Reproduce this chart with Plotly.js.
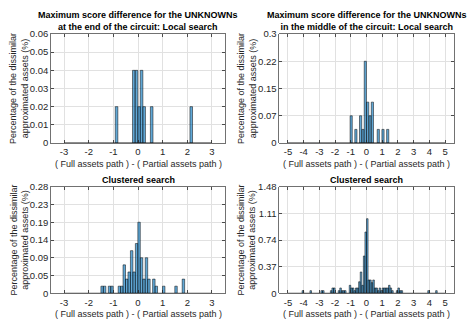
<!DOCTYPE html>
<html>
<head>
<meta charset="utf-8">
<script src="https://cdn.plot.ly/plotly-3.0.1.min.js"></script>
<style>html,body{margin:0;padding:0;background:#fff;}#chart{width:474px;height:335px;}</style>
</head>
<body>
<div id="chart"></div>
<script>
// ---- data ----
const titleEndLocal = "Maximum score difference for the UNKNOWNs<br>at the end of the circuit: Local search";
const titleMidLocal = "Maximum score difference for the UNKNOWNs<br>in the middle of the circuit: Local search";
const titleClustered = "Clustered search";
const xLabel = "( Full assets path ) - ( Partial assets path )";
const yLabel = "Percentage of the dissimilar<br>approximated assets (%)";

const rangeNarrow = [-3, 3];
const rangeWide = [-5, 5];
const xTicksNarrow = [-3, -2, -1, 0, 1, 2, 3];
const xTicksWide = [-5, -4, -3, -2, -1, 0, 1, 2, 3, 4, 5];

const endLocalCenters = [-0.87, -0.17, -0.06, 0.045, 0.145, 0.25, 0.555, 2.16];
const endLocalValues  = [0.02, 0.04, 0.04, 0.02, 0.04, 0.02, 0.02, 0.02];
const endLocalYTicks = [0, 0.01, 0.02, 0.03, 0.04, 0.05, 0.06];
const endLocalYText  = ["0", "0.01", "0.02", "0.03", "0.04", "0.05", "0.06"];

const midLocalCenters = [-0.975, -0.675, -0.375, -0.225, -0.075, 0.075, 0.225, 0.375, 0.75, 1.05, 1.35];
const midLocalValues  = [0.075, 0.0375, 0.075, 0.0375, 0.225, 0.1125, 0.075, 0.1125, 0.0375, 0.0375, 0.0375];
const midLocalYTicks = [0, 0.075, 0.15, 0.225, 0.3];
const midLocalYText  = ["0", "0.07", "0.15", "0.22", "0.3"];

const endClustCenters = [-1.455, -1.355, -1.155, -1.055, -0.755, -0.655, -0.557, -0.457, -0.357, -0.257, -0.157, -0.057, 0.043, 0.143, 0.243, 0.343, 0.443, 0.643, 0.743, 1.043, 1.543, 1.843];
const endClustValues  = [0.0187, 0.0187, 0.0187, 0.0187, 0.0187, 0.0187, 0.0747, 0.0373, 0.056, 0.112, 0.056, 0.1307, 0.1867, 0.0933, 0.0373, 0.0933, 0.0373, 0.0373, 0.0187, 0.0187, 0.0187, 0.0373];
const endClustYTicks = [0, 0.0467, 0.0933, 0.14, 0.1867, 0.2333, 0.28];
const endClustYText  = ["0", "0.05", "0.09", "0.14", "0.19", "0.23", "0.28"];

const midClustCenters = [-4.05, -3.55, -2.85, -2.75, -2.25, -2.15, -2.05, -1.75, -1.65, -1.55, -1.45, -1.35, -1.05, -0.95, -0.85, -0.75, -0.65, -0.55, -0.45, -0.35, -0.25, -0.15, -0.05, 0.05, 0.15, 0.25, 0.35, 0.45, 0.55, 0.65, 0.75, 0.85, 0.95, 1.05, 1.15, 1.25, 1.35, 1.45, 1.55, 1.65, 1.95, 2.05, 2.15, 2.25, 3.95, 4.45];
const midClustValues  = [0.037, 0.037, 0.037, 0.037, 0.037, 0.074, 0.074, 0.037, 0.074, 0.037, 0.037, 0.037, 0.111, 0.074, 0.074, 0.037, 0.074, 0.074, 0.16, 0.296, 0.111, 0.518, 0.851, 1.036, 0.185, 0.185, 0.148, 0.185, 0.074, 0.074, 0.037, 0.074, 0.037, 0.074, 0.074, 0.074, 0.074, 0.111, 0.074, 0.037, 0.037, 0.074, 0.037, 0.037, 0.037, 0.037];
const midClustYTicks = [0, 0.37, 0.74, 1.11, 1.48];
const midClustYText  = ["0", "0.37", "0.74", "1.11", "1.48"];

// ---- styles ----
const FONT = "Liberation Sans, Arial, Helvetica, sans-serif";
const AX = "#262626";
const barFill = "rgba(0,114,189,0.62)";

function bars(x, y, xa, ya, w) {
  return {type: "bar", x: x, y: y, xaxis: xa, yaxis: ya, width: w,
    marker: {color: barFill, line: {color: "#000", width: 0.5}}, hoverinfo: "none", showlegend: false};
}
function base(r, xa, ya) {
  return {type: "scatter", mode: "lines", x: r, y: [0, 0], xaxis: xa, yaxis: ya,
    line: {color: "#1a1a1a", width: 1}, hoverinfo: "none", showlegend: false};
}
function xAxis(dom, ticks, span, anchor) {
  return {domain: dom, range: [-span, span], anchor: anchor, tickvals: ticks, ticktext: ticks.map(String),
    showgrid: true, gridcolor: "#e1e1e1", gridwidth: 1, zeroline: false, showline: true, mirror: "ticks",
    linecolor: "#4d4d4d", linewidth: 0.8, ticks: "inside", ticklen: 3, tickwidth: 0.8, tickcolor: AX,
    tickfont: {family: FONT, size: 9.5, color: AX}, fixedrange: true};
}
function yAxis(dom, ticks, text, anchor) {
  return {domain: dom, range: [0, ticks[ticks.length - 1]], anchor: anchor, tickvals: ticks, ticktext: text,
    showgrid: true, gridcolor: "#e1e1e1", gridwidth: 1, zeroline: false, showline: true, mirror: "ticks",
    linecolor: "#4d4d4d", linewidth: 0.8, ticks: "inside", ticklen: 3, tickwidth: 0.8, tickcolor: AX,
    tickfont: {family: FONT, size: 9.5, color: AX}, fixedrange: true};
}

const W = 474, H = 335;
const px = v => v / W, py = v => 1 - v / H;
const colL = [px(51), px(225)], colR = [px(279.3), px(453.7)];
const rowT = [py(143), py(34)], rowB = [py(293.3), py(186.7)];

const data = [
  base(rangeNarrow, "x", "y"), bars(endLocalCenters, endLocalValues, "x", "y", 0.105),
  base(rangeWide, "x2", "y2"), bars(midLocalCenters, midLocalValues, "x2", "y2", 0.14),
  base(rangeNarrow, "x3", "y3"), bars(endClustCenters, endClustValues, "x3", "y3", 0.1),
  base(rangeWide, "x4", "y4"), bars(midClustCenters, midClustValues, "x4", "y4", 0.1)
];

function ann(text, x, y, opts) {
  return Object.assign({text: text, x: px(x), y: py(y), xref: "paper", yref: "paper", showarrow: false,
    xanchor: "center", yanchor: "middle", font: {family: FONT, size: 9, color: "#000"}}, opts || {});
}

const annotations = [
  ann("<b>" + titleEndLocal + "</b>", 138, 21.5),
  ann("<b>" + titleMidLocal + "</b>", 366.5, 21.5),
  ann("<b>" + titleClustered + "</b>", 138, 179.5),
  ann("<b>" + titleClustered + "</b>", 366.5, 179.5),
  ann(xLabel, 138, 164, {font: {family: FONT, size: 9, color: AX}}),
  ann(xLabel, 366.5, 164, {font: {family: FONT, size: 9, color: AX}}),
  ann(xLabel, 138, 314, {font: {family: FONT, size: 9, color: AX}}),
  ann(xLabel, 366.5, 314, {font: {family: FONT, size: 9, color: AX}}),
  ann(yLabel, 18.5, 88.5, {textangle: -90, font: {family: FONT, size: 9, color: AX}}),
  ann(yLabel, 246.5, 88.5, {textangle: -90, font: {family: FONT, size: 9, color: AX}}),
  ann(yLabel, 19.5, 240, {textangle: -90, font: {family: FONT, size: 9, color: AX}}),
  ann(yLabel, 246.5, 240, {textangle: -90, font: {family: FONT, size: 9, color: AX}})
];

const layout = {
  width: W, height: H, margin: {l: 0, r: 0, t: 0, b: 0},
  paper_bgcolor: "#fff", plot_bgcolor: "#fff", showlegend: false, barmode: "overlay",
  xaxis: xAxis(colL, xTicksNarrow, 3.53, "y"), yaxis: yAxis(rowT, endLocalYTicks, endLocalYText, "x"),
  xaxis2: xAxis(colR, xTicksWide, 5.55, "y2"), yaxis2: yAxis(rowT, midLocalYTicks, midLocalYText, "x2"),
  xaxis3: xAxis(colL, xTicksNarrow, 3.53, "y3"), yaxis3: yAxis(rowB, endClustYTicks, endClustYText, "x3"),
  xaxis4: xAxis(colR, xTicksWide, 5.55, "y4"), yaxis4: yAxis(rowB, midClustYTicks, midClustYText, "x4"),
  annotations: annotations
};

Plotly.newPlot("chart", data, layout, {staticPlot: true, displayModeBar: false});
</script>
</body>
</html>
